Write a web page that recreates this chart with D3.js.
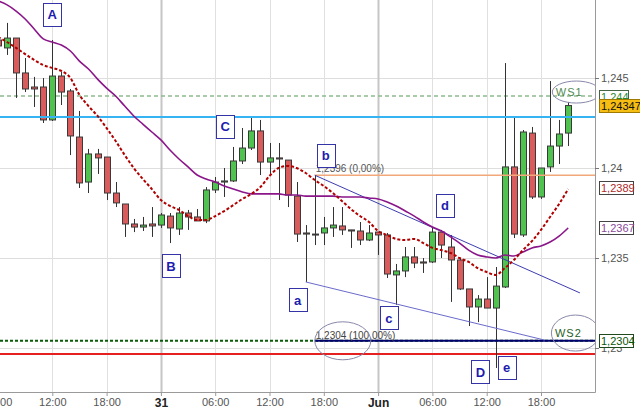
<!DOCTYPE html>
<html><head><meta charset="utf-8">
<script src="https://cdn.jsdelivr.net/npm/d3@7"></script>
<style>
body{margin:0;background:#fff;}
svg{display:block;font-family:"Liberation Sans",Arial,sans-serif;}
</style>
</head><body>
<svg id="c" width="640" height="408"></svg>
<script>
// ---------- DATA ----------
const firstCandle = Date.UTC(2012, 4, 30, 6); // hourly candles from 30 May 06:00
const opens = [1.24711,1.24667,1.24722,1.24528,1.2445,1.2445,1.24267,1.24511,1.24428,1.24172,
1.23922,1.24078,1.24061,1.23861,1.238,1.23689,1.23672,1.23689,1.23683,1.23733,
1.23661,1.2375,1.23728,1.23706,1.23878,1.23922,1.23928,1.24039,1.24111,1.24206,
1.24033,1.24056,1.24044,1.23844,1.23639,1.23633,1.23639,1.23667,1.23678,1.23656,
1.2365,1.236,1.23644,1.23628,1.23406,1.23428,1.23506,1.23478,1.23478,1.23644,
1.23561,1.23489,1.23328,1.23228,1.23272,1.23222,1.23339,1.24006,1.23628,1.24194,
1.23839,1.24006,1.24122,1.24194];
const highs = [1.24767,1.24806,1.24722,1.24611,1.24506,1.245,1.24711,1.24533,1.24439,1.24317,
1.24106,1.24106,1.24061,1.23922,1.238,1.23717,1.23728,1.23783,1.2375,1.2375,
1.23783,1.23767,1.23772,1.23894,1.2395,1.24,1.24117,1.24222,1.24278,1.24267,
1.24139,1.24139,1.24044,1.23922,1.23683,1.2396,1.23728,1.23783,1.23783,1.23656,
1.237,1.23683,1.23644,1.23639,1.23467,1.23561,1.23561,1.235,1.23667,1.23656,
1.23628,1.235,1.23328,1.23294,1.23394,1.2345,1.24583,1.24283,1.24211,1.24228,
1.24,1.24483,1.24267,1.24367];
const lows = [1.24656,1.24628,1.24389,1.24422,1.24339,1.2425,1.24261,1.2435,1.24072,1.23889,
1.23861,1.23967,1.23822,1.23783,1.23617,1.23644,1.2365,1.23617,1.23667,1.23583,
1.23628,1.23656,1.23706,1.23694,1.23861,1.23839,1.23922,1.24022,1.241,1.23961,
1.23961,1.23822,1.23783,1.23589,1.23367,1.23572,1.23572,1.23617,1.23628,1.23556,
1.23572,1.23594,1.23517,1.23389,1.23239,1.23394,1.23444,1.23417,1.23472,1.235,
1.23256,1.23322,1.23122,1.23144,1.23222,1.22889,1.23333,1.23611,1.23617,1.23828,
1.23828,1.23978,1.24022,1.24122];
const closes = [1.24678,1.24722,1.24528,1.24439,1.24439,1.24267,1.24511,1.24422,1.24178,1.23917,
1.24078,1.24056,1.23861,1.23806,1.23689,1.23672,1.23683,1.23678,1.23739,1.23667,
1.2375,1.23728,1.23706,1.23878,1.23922,1.23928,1.24039,1.24111,1.24206,1.24033,
1.24056,1.2405,1.2385,1.23633,1.23633,1.23628,1.23667,1.23683,1.23656,1.2365,
1.236,1.23639,1.23628,1.23411,1.23428,1.23506,1.23472,1.23472,1.23644,1.23572,
1.23489,1.23328,1.23228,1.23272,1.23222,1.23344,1.24006,1.23633,1.242,1.23839,
1.24,1.24122,1.24189,1.24347];
const maSlow = [1.24928,1.24906,1.24872,1.24828,1.24772,1.24717,1.247,1.24683,1.2465,1.24594,
1.2455,1.24494,1.24444,1.244,1.24344,1.24289,1.24244,1.242,1.24156,1.241,
1.2405,1.24006,1.23961,1.23939,1.23922,1.239,1.23883,1.23867,1.23856,1.23856,
1.23856,1.23856,1.2385,1.2385,1.23844,1.23844,1.23844,1.23844,1.23839,1.23839,
1.23839,1.23833,1.23828,1.23811,1.23789,1.23761,1.23733,1.237,1.23672,1.2365,
1.23617,1.23583,1.23544,1.23517,1.23506,1.235,1.23517,1.23511,1.23533,1.23556,
1.23567,1.23589,1.23622,1.23667];
const maFast = [1.24728,1.247,1.24667,1.24633,1.246,1.24572,1.24556,1.24539,1.245,1.24406,
1.24344,1.24289,1.24222,1.2415,1.24072,1.24,1.23939,1.23883,1.23822,1.23789,
1.23767,1.23733,1.23711,1.23711,1.23733,1.23761,1.23794,1.23828,1.23856,1.23894,
1.23956,1.24,1.24011,1.24,1.23972,1.23933,1.239,1.23861,1.23817,1.23772,
1.23733,1.237,1.2365,1.23628,1.23606,1.236,1.23606,1.23583,1.23556,1.23544,
1.23528,1.235,1.23478,1.23444,1.23422,1.23406,1.23444,1.23489,1.23544,1.23594,
1.23656,1.23728,1.238,1.23883];

const priceTicks = [1.23, 1.235, 1.24, 1.245];
const timeTickHours = [0,6,12,18,24,30,36,42,48,54,60]; // hours after 30 May 06:00
const timeTickLabels = ["06:00","12:00","18:00","31","06:00","12:00","18:00","Jun","06:00","12:00","18:00"];
const dayTicks = ["31","Jun"];

const ws1 = 1.244, ws2 = 1.2304;
const blueLevel = 1.24283, redLevel = 1.22967;
const fibHigh = 1.2396, fibLow = 1.2304, fibStartHour = 35;
const lastPrice = 1.24347, fastLast = 1.2389, slowLast = 1.2367;
const upperTrend = [[35, 1.2396], [64.3, 1.23306]];
const lowerTrend = [[34, 1.23367], [60.4, 1.23044]];
const letterLabels = ["A","B","C","b","a","c","d","D","e"];
const letterHours  = [6.0, 19.1, 25.1, 36.2, 33.1, 43.2, 49.4, 53.3, 56.2];
const letterPrices = [1.24853, 1.23456, 1.24233, 1.24072, 1.23267, 1.23167, 1.23794, 1.22867, 1.22894];

// ---------- SCALES ----------
const tAt = h => new Date(firstCandle + h * 3600e3);
const x = d3.scaleUtc().domain([tAt(0), tAt(60)]).range([-2, 541]);
const y = d3.scaleLinear().domain([1.23, 1.245]).range([348, 78]);
const xh = h => x(tAt(h));
const plotR = 595, plotB = 392;

const loc = d3.formatLocale({decimal: ",", thousands: ".", grouping: [3], currency: ["", ""]});
const fTick = loc.format(".3~f"), f4 = loc.format(".4f"), f5 = loc.format(".5f"), f3 = loc.format(".3f");

const svg = d3.select("#c");
svg.append("rect").attr("width", 640).attr("height", 408).attr("fill", "#fff");
svg.append("defs").append("clipPath").attr("id", "clip")
  .append("rect").attr("x", 0).attr("y", 0).attr("width", plotR).attr("height", plotB);

const plot = svg.append("g").attr("clip-path", "url(#clip)");

// grid
plot.selectAll(".hg").data(priceTicks).join("line")
  .attr("x1", 0).attr("x2", plotR).attr("y1", d => Math.round(y(d)) + 0.5).attr("y2", d => Math.round(y(d)) + 0.5)
  .attr("stroke", "#dedede");
plot.selectAll(".vg").data(timeTickHours).join("line")
  .attr("x1", d => Math.round(xh(d)) + 0.5).attr("x2", d => Math.round(xh(d)) + 0.5)
  .attr("y1", 0).attr("y2", plotB)
  .attr("stroke", (d, i) => dayTicks.includes(timeTickLabels[i]) ? "#c6c6c6" : "#e0e0e0")
  .attr("stroke-width", (d, i) => dayTicks.includes(timeTickLabels[i]) ? 2 : 1);

// horizontal levels
function hline(v, x1, color, w, dash) {
  plot.append("line").attr("x1", x1).attr("x2", plotR).attr("y1", y(v)).attr("y2", y(v))
    .attr("stroke", color).attr("stroke-width", w).attr("stroke-dasharray", dash || null);
}
hline(ws1, 0, "#8dbb8d", 1.5, "4,3");
hline(ws2, 0, "#0a5c0a", 2, "3,2");
hline(redLevel, 0, "#e42020", 2);

// candles
const idx = d3.range(opens.length);
const cg = plot.append("g");
cg.selectAll(".wick").data(idx).join("line")
  .attr("x1", i => Math.round(xh(i)) + 0.5).attr("x2", i => Math.round(xh(i)) + 0.5)
  .attr("y1", i => y(highs[i])).attr("y2", i => y(lows[i]))
  .attr("stroke", "#333").attr("stroke-width", 1);
cg.selectAll(".body").data(idx).join("rect")
  .attr("x", i => Math.round(xh(i)) - 2.5).attr("width", 6)
  .attr("y", i => y(Math.max(opens[i], closes[i])))
  .attr("height", i => Math.max(1, Math.abs(y(opens[i]) - y(closes[i]))))
  .attr("fill", i => closes[i] >= opens[i] ? "#4fc24f" : "#da5b5b")
  .attr("stroke", "#3a3a3a").attr("stroke-width", 1);

hline(blueLevel, 0, "#36b3f2", 2);
// fib lines
hline(fibHigh, xh(fibStartHour), "#f2a87a", 1.5);
hline(fibLow, xh(fibStartHour), "#00006e", 2);

// trendlines
[[upperTrend, "#3c3cb0"], [lowerTrend, "#6a6acc"]].forEach(([pts, col]) => {
  plot.append("line")
    .attr("x1", xh(pts[0][0])).attr("y1", y(pts[0][1]))
    .attr("x2", xh(pts[1][0])).attr("y2", y(pts[1][1]))
    .attr("stroke", col).attr("stroke-width", 1);
});

// moving averages
const line = d3.line().x((d, i) => xh(i)).y(d => y(d)).curve(d3.curveMonotoneX);
plot.append("path").attr("d", line(maSlow)).attr("fill", "none")
  .attr("stroke", "#8a168a").attr("stroke-width", 1.6);
plot.append("path").attr("d", line(maFast)).attr("fill", "none")
  .attr("stroke", "#b00000").attr("stroke-width", 2).attr("stroke-dasharray", "3,2");

// fib labels
plot.append("text").attr("x", xh(fibStartHour) + 1).attr("y", y(fibHigh) - 3)
  .attr("font-size", 10).attr("fill", "#555").text(f4(fibHigh) + " (0,00%)");
plot.append("text").attr("x", xh(fibStartHour) + 1).attr("y", y(fibLow) - 2)
  .attr("font-size", 10).attr("fill", "#444").text(f4(fibLow) + " (100,00%)");

// ellipses
const ellipses = [[38.1, 1.2304, 28, 19, null], [63.9, 1.24422, 24, 11, "WS1"], [63.8, 1.23083, 24, 18, "WS2"]];
ellipses.forEach(([h, v, rx, ry, t]) => {
  plot.append("ellipse").attr("cx", xh(h)).attr("cy", y(v)).attr("rx", rx).attr("ry", ry)
    .attr("fill", "none").attr("stroke", "#8888aa").attr("stroke-width", 1);
  if (t) plot.append("text").attr("x", xh(h) - 7).attr("y", y(v) + 4).attr("text-anchor", "middle")
    .attr("font-size", 11).attr("letter-spacing", "1px").attr("fill", t === "WS1" ? "#4f8a4f" : "#1f5f1f").text(t);
});

// letter boxes
letterLabels.forEach((t, i) => {
  const cx = xh(letterHours[i]), cy = y(letterPrices[i]);
  plot.append("rect").attr("x", Math.round(cx - 9) + 0.5).attr("y", Math.round(cy - 11.5) + 0.5)
    .attr("width", 18).attr("height", 23).attr("fill", "#fff").attr("stroke", "#3434a8").attr("stroke-width", 1);
  plot.append("text").attr("x", cx).attr("y", cy + 5).attr("text-anchor", "middle")
    .attr("font-size", 13).attr("font-weight", "bold").attr("fill", "#1c1cae").text(t);
});

// axes lines
svg.append("line").attr("x1", 0).attr("x2", plotR + 0.5).attr("y1", plotB + 0.5).attr("y2", plotB + 0.5).attr("stroke", "#9a9a9a");
svg.append("line").attr("x1", plotR + 0.5).attr("x2", plotR + 0.5).attr("y1", 0).attr("y2", plotB + 0.5).attr("stroke", "#9a9a9a");

// x axis
const xAxis = d3.axisBottom(x).tickValues(timeTickHours.map(tAt))
  .tickFormat((d, i) => timeTickLabels[i]).tickSize(4).tickPadding(2);
const gx = svg.append("g").attr("transform", `translate(0,${plotB})`).call(xAxis);
gx.select(".domain").remove();
gx.selectAll(".tick line").attr("stroke", "#9a9a9a");
gx.selectAll(".tick text").attr("font-family", "Liberation Sans, Arial, sans-serif")
  .attr("font-size", (d, i) => dayTicks.includes(timeTickLabels[i]) ? 12 : 11)
  .attr("font-weight", (d, i) => dayTicks.includes(timeTickLabels[i]) ? "bold" : "normal")
  .attr("fill", (d, i) => dayTicks.includes(timeTickLabels[i]) ? "#222" : "#555");

// y axis
const yAxis = d3.axisRight(y).tickValues(priceTicks).tickFormat(fTick).tickSize(4).tickPadding(2);
const gy = svg.append("g").attr("transform", `translate(${plotR},0)`).call(yAxis);
gy.select(".domain").remove();
gy.selectAll(".tick line").attr("stroke", "#777");
gy.selectAll(".tick text").attr("font-family", "Liberation Sans, Arial, sans-serif")
  .attr("font-size", 11).attr("fill", "#555");

// right price boxes
const boxes = [
  [ws1, f3(ws1), "#2f8a2f", "#fff", "#446644", 29],
  [lastPrice, f5(lastPrice), "#111", "#f6bd12", "#a07a00", 41],
  [fastLast, f4(fastLast), "#b02a2a", "#fff", "#444", 34],
  [slowLast, f4(slowLast), "#8a4a9a", "#fff", "#444", 34],
  [ws2, f4(ws2), "#0b560b", "#fff", "#1e4a1e", 34]
];
boxes.forEach(([v, t, tc, bg, bc, w]) => {
  const cy = y(v);
  svg.append("rect").attr("x", 599.5).attr("y", Math.round(cy - 6.5) + 0.5).attr("width", w).attr("height", 13)
    .attr("fill", bg).attr("stroke", bc).attr("stroke-width", 1);
  svg.append("text").attr("x", 601).attr("y", cy + 4.5).attr("font-size", 11).attr("fill", tc).text(t);
});
</script>
</body></html>
